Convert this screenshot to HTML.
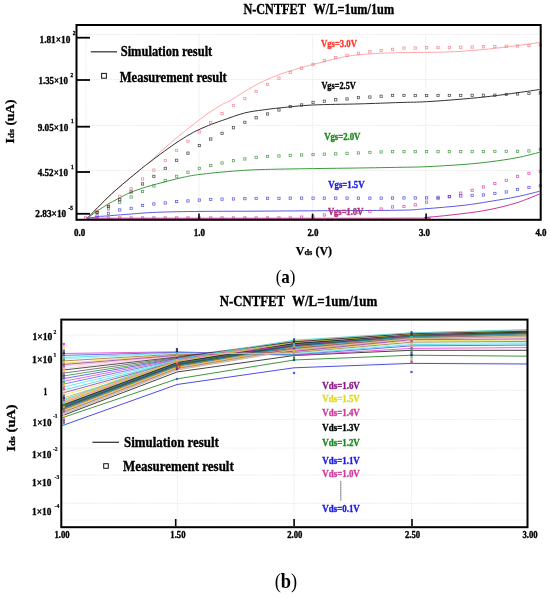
<!DOCTYPE html>
<html><head><meta charset="utf-8"><title>N-CNTFET</title>
<style>
html,body{margin:0;padding:0;background:#fff;}
body{width:550px;height:598px;overflow:hidden;}
svg{display:block;font-family:'Liberation Serif', 'DejaVu Serif', serif;}
</style></head>
<body>
<svg width="550" height="598" viewBox="0 0 550 598">
<rect width="550" height="598" fill="#fff"/>
<line x1="86" y1="34.5" x2="539" y2="34.5" stroke="#e4e4e4" stroke-width="0.8" stroke-dasharray="1.5,1"/>
<line x1="86" y1="79.5" x2="539" y2="79.5" stroke="#e4e4e4" stroke-width="0.8" stroke-dasharray="1.5,1"/>
<line x1="86" y1="125.5" x2="539" y2="125.5" stroke="#e4e4e4" stroke-width="0.8" stroke-dasharray="1.5,1"/>
<line x1="86" y1="170.5" x2="539" y2="170.5" stroke="#e4e4e4" stroke-width="0.8" stroke-dasharray="1.5,1"/>
<line x1="86" y1="34" x2="86" y2="218" stroke="#e4e4e4" stroke-width="0.8" stroke-dasharray="1.5,1"/>
<line x1="199.1" y1="34" x2="199.1" y2="218" stroke="#e4e4e4" stroke-width="0.8" stroke-dasharray="1.5,1"/>
<line x1="312.7" y1="34" x2="312.7" y2="218" stroke="#e4e4e4" stroke-width="0.8" stroke-dasharray="1.5,1"/>
<line x1="425.8" y1="34" x2="425.8" y2="218" stroke="#e4e4e4" stroke-width="0.8" stroke-dasharray="1.5,1"/>
<path d="M87.00,218.20 C139.17,218.20 343.50,218.33 400.00,218.20 C456.50,218.07 415.50,218.17 426.00,217.40 C436.50,216.63 452.33,214.92 463.00,213.60 C473.67,212.28 481.00,211.32 490.00,209.50 C499.00,207.68 508.75,205.28 517.00,202.70 C525.25,200.12 535.75,195.45 539.50,194.00" fill="none" stroke="#d0309a" stroke-width="1.0" stroke-opacity="1.0"/>
<path d="M87.00,218.50 C88.87,218.18 94.82,217.03 98.20,216.60 C101.58,216.17 102.00,216.32 107.30,215.90 C112.60,215.48 121.82,214.70 130.00,214.10 C138.18,213.50 144.73,212.75 156.40,212.30 C168.07,211.85 184.40,211.58 200.00,211.40 C215.60,211.22 231.33,211.30 250.00,211.20 C268.67,211.10 287.00,210.97 312.00,210.80 C337.00,210.63 381.00,210.55 400.00,210.20 C419.00,209.85 415.50,209.50 426.00,208.70 C436.50,207.90 452.33,206.62 463.00,205.40 C473.67,204.18 481.00,202.85 490.00,201.40 C499.00,199.95 508.75,198.38 517.00,196.70 C525.25,195.02 535.75,192.20 539.50,191.30" fill="none" stroke="#5a5ae8" stroke-width="1.0" stroke-opacity="1.0"/>
<path d="M87.00,218.50 C88.67,217.28 93.62,213.53 97.00,211.20 C100.38,208.87 103.77,206.60 107.30,204.50 C110.83,202.40 114.42,200.57 118.20,198.60 C121.98,196.63 125.45,194.60 130.00,192.70 C134.55,190.80 139.28,189.12 145.50,187.20 C151.72,185.28 160.77,182.90 167.30,181.20 C173.83,179.50 179.25,178.13 184.70,177.00 C190.15,175.87 192.45,175.33 200.00,174.40 C207.55,173.47 220.00,172.20 230.00,171.40 C240.00,170.60 246.22,170.07 260.00,169.60 C273.78,169.13 296.20,168.87 312.70,168.60 C329.20,168.33 344.45,168.22 359.00,168.00 C373.55,167.78 388.83,167.52 400.00,167.30 C411.17,167.08 415.50,167.17 426.00,166.70 C436.50,166.23 452.33,165.32 463.00,164.50 C473.67,163.68 481.00,162.93 490.00,161.80 C499.00,160.67 508.75,159.28 517.00,157.70 C525.25,156.12 535.75,153.20 539.50,152.30" fill="none" stroke="#3c9a3c" stroke-width="1.0" stroke-opacity="1.0"/>
<path d="M87.00,218.50 C91.10,214.40 102.85,201.95 111.60,193.90 C120.35,185.85 133.10,175.58 139.50,170.20 C145.90,164.82 145.83,165.27 150.00,161.60 C154.17,157.93 159.65,152.50 164.50,148.20 C169.35,143.90 174.25,139.80 179.10,135.80 C183.95,131.80 188.75,127.95 193.60,124.20 C198.45,120.45 203.35,116.63 208.20,113.30 C213.05,109.97 219.07,106.28 222.70,104.20 C226.33,102.12 226.37,102.92 230.00,100.80 C233.63,98.68 239.05,94.72 244.50,91.50 C249.95,88.28 256.63,84.42 262.70,81.50 C268.77,78.58 274.68,76.25 280.90,74.00 C287.12,71.75 294.70,69.57 300.00,68.00 C305.30,66.43 305.12,66.50 312.70,64.60 C320.28,62.70 335.62,58.40 345.50,56.60 C355.38,54.80 362.92,54.45 372.00,53.80 C381.08,53.15 387.08,53.02 400.00,52.70 C412.92,52.38 435.78,52.42 449.50,51.90 C463.22,51.38 472.30,50.48 482.30,49.60 C492.30,48.72 499.97,47.78 509.50,46.60 C519.03,45.42 534.50,43.18 539.50,42.50" fill="none" stroke="#ffa8a8" stroke-width="1.0" stroke-opacity="1.0"/>
<path d="M87.00,218.50 C91.10,214.40 102.85,201.95 111.60,193.90 C120.35,185.85 133.10,175.52 139.50,170.20 C145.90,164.88 145.83,165.18 150.00,162.00 C154.17,158.82 159.65,154.62 164.50,151.10 C169.35,147.58 174.25,144.05 179.10,140.90 C183.95,137.75 188.75,134.75 193.60,132.20 C198.45,129.65 203.35,127.58 208.20,125.60 C213.05,123.62 216.65,122.40 222.70,120.30 C228.75,118.20 237.83,114.72 244.50,113.00 C251.17,111.28 256.63,110.87 262.70,110.00 C268.77,109.13 272.57,108.63 280.90,107.80 C289.23,106.97 299.68,105.65 312.70,105.00 C325.72,104.35 344.45,104.32 359.00,103.90 C373.55,103.48 388.77,102.87 400.00,102.50 C411.23,102.13 415.90,102.28 426.40,101.70 C436.90,101.12 452.33,99.90 463.00,99.00 C473.67,98.10 481.28,97.35 490.40,96.30 C499.52,95.25 509.52,93.83 517.70,92.70 C525.88,91.57 535.87,90.03 539.50,89.50" fill="none" stroke="#333333" stroke-width="1.0" stroke-opacity="1.0"/>
<rect x="84.5" y="216.8" width="2.3" height="2.3" fill="none" stroke="#d0309a" stroke-width="0.75" stroke-opacity="0.8"/>
<rect x="95.9" y="216.8" width="2.3" height="2.3" fill="none" stroke="#d0309a" stroke-width="0.75" stroke-opacity="0.8"/>
<rect x="107.3" y="216.8" width="2.3" height="2.3" fill="none" stroke="#d0309a" stroke-width="0.75" stroke-opacity="0.8"/>
<rect x="118.6" y="216.8" width="2.3" height="2.3" fill="none" stroke="#d0309a" stroke-width="0.75" stroke-opacity="0.8"/>
<rect x="130.0" y="216.8" width="2.3" height="2.3" fill="none" stroke="#d0309a" stroke-width="0.75" stroke-opacity="0.8"/>
<rect x="141.4" y="216.8" width="2.3" height="2.3" fill="none" stroke="#d0309a" stroke-width="0.75" stroke-opacity="0.8"/>
<rect x="152.7" y="216.8" width="2.3" height="2.3" fill="none" stroke="#d0309a" stroke-width="0.75" stroke-opacity="0.8"/>
<rect x="164.1" y="216.8" width="2.3" height="2.3" fill="none" stroke="#d0309a" stroke-width="0.75" stroke-opacity="0.8"/>
<rect x="175.5" y="216.8" width="2.3" height="2.3" fill="none" stroke="#d0309a" stroke-width="0.75" stroke-opacity="0.8"/>
<rect x="186.8" y="216.8" width="2.3" height="2.3" fill="none" stroke="#d0309a" stroke-width="0.75" stroke-opacity="0.8"/>
<rect x="198.2" y="216.8" width="2.3" height="2.3" fill="none" stroke="#d0309a" stroke-width="0.75" stroke-opacity="0.8"/>
<rect x="209.6" y="216.8" width="2.3" height="2.3" fill="none" stroke="#d0309a" stroke-width="0.75" stroke-opacity="0.8"/>
<rect x="220.9" y="216.8" width="2.3" height="2.3" fill="none" stroke="#d0309a" stroke-width="0.75" stroke-opacity="0.8"/>
<rect x="232.3" y="216.8" width="2.3" height="2.3" fill="none" stroke="#d0309a" stroke-width="0.75" stroke-opacity="0.8"/>
<rect x="243.7" y="216.8" width="2.3" height="2.3" fill="none" stroke="#d0309a" stroke-width="0.75" stroke-opacity="0.8"/>
<rect x="255.0" y="216.8" width="2.3" height="2.3" fill="none" stroke="#d0309a" stroke-width="0.75" stroke-opacity="0.8"/>
<rect x="266.4" y="216.8" width="2.3" height="2.3" fill="none" stroke="#d0309a" stroke-width="0.75" stroke-opacity="0.8"/>
<rect x="277.8" y="216.8" width="2.3" height="2.3" fill="none" stroke="#d0309a" stroke-width="0.75" stroke-opacity="0.8"/>
<rect x="289.1" y="216.8" width="2.3" height="2.3" fill="none" stroke="#d0309a" stroke-width="0.75" stroke-opacity="0.8"/>
<rect x="300.5" y="216.0" width="2.3" height="2.3" fill="none" stroke="#d0309a" stroke-width="0.75" stroke-opacity="0.8"/>
<rect x="311.9" y="215.8" width="2.3" height="2.3" fill="none" stroke="#d0309a" stroke-width="0.75" stroke-opacity="0.8"/>
<rect x="323.2" y="213.8" width="2.3" height="2.3" fill="none" stroke="#d0309a" stroke-width="0.75" stroke-opacity="0.8"/>
<rect x="334.6" y="212.8" width="2.3" height="2.3" fill="none" stroke="#d0309a" stroke-width="0.75" stroke-opacity="0.8"/>
<rect x="345.9" y="211.8" width="2.3" height="2.3" fill="none" stroke="#d0309a" stroke-width="0.75" stroke-opacity="0.8"/>
<rect x="357.3" y="211.2" width="2.3" height="2.3" fill="none" stroke="#d0309a" stroke-width="0.75" stroke-opacity="0.8"/>
<rect x="368.7" y="210.2" width="2.3" height="2.3" fill="none" stroke="#d0309a" stroke-width="0.75" stroke-opacity="0.8"/>
<rect x="380.0" y="207.9" width="2.3" height="2.3" fill="none" stroke="#d0309a" stroke-width="0.75" stroke-opacity="0.8"/>
<rect x="391.4" y="205.8" width="2.3" height="2.3" fill="none" stroke="#d0309a" stroke-width="0.75" stroke-opacity="0.8"/>
<rect x="402.8" y="205.3" width="2.3" height="2.3" fill="none" stroke="#d0309a" stroke-width="0.75" stroke-opacity="0.8"/>
<rect x="414.1" y="203.7" width="2.3" height="2.3" fill="none" stroke="#d0309a" stroke-width="0.75" stroke-opacity="0.8"/>
<rect x="425.5" y="201.0" width="2.3" height="2.3" fill="none" stroke="#d0309a" stroke-width="0.75" stroke-opacity="0.8"/>
<rect x="436.9" y="197.4" width="2.3" height="2.3" fill="none" stroke="#d0309a" stroke-width="0.75" stroke-opacity="0.8"/>
<rect x="448.2" y="195.5" width="2.3" height="2.3" fill="none" stroke="#d0309a" stroke-width="0.75" stroke-opacity="0.8"/>
<rect x="459.6" y="192.0" width="2.3" height="2.3" fill="none" stroke="#d0309a" stroke-width="0.75" stroke-opacity="0.8"/>
<rect x="471.0" y="189.2" width="2.3" height="2.3" fill="none" stroke="#d0309a" stroke-width="0.75" stroke-opacity="0.8"/>
<rect x="482.3" y="185.8" width="2.3" height="2.3" fill="none" stroke="#d0309a" stroke-width="0.75" stroke-opacity="0.8"/>
<rect x="493.7" y="182.4" width="2.3" height="2.3" fill="none" stroke="#d0309a" stroke-width="0.75" stroke-opacity="0.8"/>
<rect x="505.1" y="179.2" width="2.3" height="2.3" fill="none" stroke="#d0309a" stroke-width="0.75" stroke-opacity="0.8"/>
<rect x="516.4" y="175.2" width="2.3" height="2.3" fill="none" stroke="#d0309a" stroke-width="0.75" stroke-opacity="0.8"/>
<rect x="527.8" y="172.2" width="2.3" height="2.3" fill="none" stroke="#d0309a" stroke-width="0.75" stroke-opacity="0.8"/>
<rect x="539.2" y="170.2" width="2.3" height="2.3" fill="none" stroke="#d0309a" stroke-width="0.75" stroke-opacity="0.8"/>
<rect x="95.9" y="214.8" width="2.3" height="2.3" fill="none" stroke="#3434e0" stroke-width="0.75" stroke-opacity="0.8"/>
<rect x="107.3" y="212.2" width="2.3" height="2.3" fill="none" stroke="#3434e0" stroke-width="0.75" stroke-opacity="0.8"/>
<rect x="118.6" y="208.8" width="2.3" height="2.3" fill="none" stroke="#3434e0" stroke-width="0.75" stroke-opacity="0.8"/>
<rect x="130.0" y="207.2" width="2.3" height="2.3" fill="none" stroke="#3434e0" stroke-width="0.75" stroke-opacity="0.8"/>
<rect x="141.4" y="204.3" width="2.3" height="2.3" fill="none" stroke="#3434e0" stroke-width="0.75" stroke-opacity="0.8"/>
<rect x="152.7" y="202.8" width="2.3" height="2.3" fill="none" stroke="#3434e0" stroke-width="0.75" stroke-opacity="0.8"/>
<rect x="164.1" y="201.8" width="2.3" height="2.3" fill="none" stroke="#3434e0" stroke-width="0.75" stroke-opacity="0.8"/>
<rect x="175.5" y="200.4" width="2.3" height="2.3" fill="none" stroke="#3434e0" stroke-width="0.75" stroke-opacity="0.8"/>
<rect x="186.8" y="199.8" width="2.3" height="2.3" fill="none" stroke="#3434e0" stroke-width="0.75" stroke-opacity="0.8"/>
<rect x="198.2" y="198.9" width="2.3" height="2.3" fill="none" stroke="#3434e0" stroke-width="0.75" stroke-opacity="0.8"/>
<rect x="209.6" y="198.3" width="2.3" height="2.3" fill="none" stroke="#3434e0" stroke-width="0.75" stroke-opacity="0.8"/>
<rect x="220.9" y="198.0" width="2.3" height="2.3" fill="none" stroke="#3434e0" stroke-width="0.75" stroke-opacity="0.8"/>
<rect x="232.3" y="197.8" width="2.3" height="2.3" fill="none" stroke="#3434e0" stroke-width="0.75" stroke-opacity="0.8"/>
<rect x="243.7" y="197.5" width="2.3" height="2.3" fill="none" stroke="#3434e0" stroke-width="0.75" stroke-opacity="0.8"/>
<rect x="255.0" y="197.3" width="2.3" height="2.3" fill="none" stroke="#3434e0" stroke-width="0.75" stroke-opacity="0.8"/>
<rect x="266.4" y="197.2" width="2.3" height="2.3" fill="none" stroke="#3434e0" stroke-width="0.75" stroke-opacity="0.8"/>
<rect x="277.8" y="197.2" width="2.3" height="2.3" fill="none" stroke="#3434e0" stroke-width="0.75" stroke-opacity="0.8"/>
<rect x="289.1" y="197.0" width="2.3" height="2.3" fill="none" stroke="#3434e0" stroke-width="0.75" stroke-opacity="0.8"/>
<rect x="300.5" y="197.0" width="2.3" height="2.3" fill="none" stroke="#3434e0" stroke-width="0.75" stroke-opacity="0.8"/>
<rect x="311.9" y="197.0" width="2.3" height="2.3" fill="none" stroke="#3434e0" stroke-width="0.75" stroke-opacity="0.8"/>
<rect x="323.2" y="197.0" width="2.3" height="2.3" fill="none" stroke="#3434e0" stroke-width="0.75" stroke-opacity="0.8"/>
<rect x="334.6" y="197.0" width="2.3" height="2.3" fill="none" stroke="#3434e0" stroke-width="0.75" stroke-opacity="0.8"/>
<rect x="345.9" y="197.0" width="2.3" height="2.3" fill="none" stroke="#3434e0" stroke-width="0.75" stroke-opacity="0.8"/>
<rect x="357.3" y="197.0" width="2.3" height="2.3" fill="none" stroke="#3434e0" stroke-width="0.75" stroke-opacity="0.8"/>
<rect x="368.7" y="197.0" width="2.3" height="2.3" fill="none" stroke="#3434e0" stroke-width="0.75" stroke-opacity="0.8"/>
<rect x="380.0" y="197.0" width="2.3" height="2.3" fill="none" stroke="#3434e0" stroke-width="0.75" stroke-opacity="0.8"/>
<rect x="391.4" y="196.9" width="2.3" height="2.3" fill="none" stroke="#3434e0" stroke-width="0.75" stroke-opacity="0.8"/>
<rect x="402.8" y="196.8" width="2.3" height="2.3" fill="none" stroke="#3434e0" stroke-width="0.75" stroke-opacity="0.8"/>
<rect x="414.1" y="196.8" width="2.3" height="2.3" fill="none" stroke="#3434e0" stroke-width="0.75" stroke-opacity="0.8"/>
<rect x="425.5" y="196.7" width="2.3" height="2.3" fill="none" stroke="#3434e0" stroke-width="0.75" stroke-opacity="0.8"/>
<rect x="436.9" y="196.2" width="2.3" height="2.3" fill="none" stroke="#3434e0" stroke-width="0.75" stroke-opacity="0.8"/>
<rect x="448.2" y="195.5" width="2.3" height="2.3" fill="none" stroke="#3434e0" stroke-width="0.75" stroke-opacity="0.8"/>
<rect x="459.6" y="194.8" width="2.3" height="2.3" fill="none" stroke="#3434e0" stroke-width="0.75" stroke-opacity="0.8"/>
<rect x="471.0" y="194.3" width="2.3" height="2.3" fill="none" stroke="#3434e0" stroke-width="0.75" stroke-opacity="0.8"/>
<rect x="482.3" y="193.8" width="2.3" height="2.3" fill="none" stroke="#3434e0" stroke-width="0.75" stroke-opacity="0.8"/>
<rect x="493.7" y="192.3" width="2.3" height="2.3" fill="none" stroke="#3434e0" stroke-width="0.75" stroke-opacity="0.8"/>
<rect x="505.1" y="190.8" width="2.3" height="2.3" fill="none" stroke="#3434e0" stroke-width="0.75" stroke-opacity="0.8"/>
<rect x="516.4" y="188.3" width="2.3" height="2.3" fill="none" stroke="#3434e0" stroke-width="0.75" stroke-opacity="0.8"/>
<rect x="527.8" y="186.3" width="2.3" height="2.3" fill="none" stroke="#3434e0" stroke-width="0.75" stroke-opacity="0.8"/>
<rect x="539.2" y="184.7" width="2.3" height="2.3" fill="none" stroke="#3434e0" stroke-width="0.75" stroke-opacity="0.8"/>
<rect x="95.9" y="211.5" width="2.3" height="2.3" fill="none" stroke="#2e8b2e" stroke-width="0.75" stroke-opacity="0.8"/>
<rect x="107.3" y="207.7" width="2.3" height="2.3" fill="none" stroke="#2e8b2e" stroke-width="0.75" stroke-opacity="0.8"/>
<rect x="118.6" y="201.3" width="2.3" height="2.3" fill="none" stroke="#2e8b2e" stroke-width="0.75" stroke-opacity="0.8"/>
<rect x="130.0" y="195.8" width="2.3" height="2.3" fill="none" stroke="#2e8b2e" stroke-width="0.75" stroke-opacity="0.8"/>
<rect x="141.4" y="190.4" width="2.3" height="2.3" fill="none" stroke="#2e8b2e" stroke-width="0.75" stroke-opacity="0.8"/>
<rect x="152.7" y="184.8" width="2.3" height="2.3" fill="none" stroke="#2e8b2e" stroke-width="0.75" stroke-opacity="0.8"/>
<rect x="164.1" y="179.5" width="2.3" height="2.3" fill="none" stroke="#2e8b2e" stroke-width="0.75" stroke-opacity="0.8"/>
<rect x="175.5" y="175.2" width="2.3" height="2.3" fill="none" stroke="#2e8b2e" stroke-width="0.75" stroke-opacity="0.8"/>
<rect x="186.8" y="171.2" width="2.3" height="2.3" fill="none" stroke="#2e8b2e" stroke-width="0.75" stroke-opacity="0.8"/>
<rect x="198.2" y="167.2" width="2.3" height="2.3" fill="none" stroke="#2e8b2e" stroke-width="0.75" stroke-opacity="0.8"/>
<rect x="209.6" y="164.4" width="2.3" height="2.3" fill="none" stroke="#2e8b2e" stroke-width="0.75" stroke-opacity="0.8"/>
<rect x="220.9" y="161.8" width="2.3" height="2.3" fill="none" stroke="#2e8b2e" stroke-width="0.75" stroke-opacity="0.8"/>
<rect x="232.3" y="159.5" width="2.3" height="2.3" fill="none" stroke="#2e8b2e" stroke-width="0.75" stroke-opacity="0.8"/>
<rect x="243.7" y="157.8" width="2.3" height="2.3" fill="none" stroke="#2e8b2e" stroke-width="0.75" stroke-opacity="0.8"/>
<rect x="255.0" y="156.2" width="2.3" height="2.3" fill="none" stroke="#2e8b2e" stroke-width="0.75" stroke-opacity="0.8"/>
<rect x="266.4" y="155.3" width="2.3" height="2.3" fill="none" stroke="#2e8b2e" stroke-width="0.75" stroke-opacity="0.8"/>
<rect x="277.8" y="154.8" width="2.3" height="2.3" fill="none" stroke="#2e8b2e" stroke-width="0.75" stroke-opacity="0.8"/>
<rect x="289.1" y="154.3" width="2.3" height="2.3" fill="none" stroke="#2e8b2e" stroke-width="0.75" stroke-opacity="0.8"/>
<rect x="300.5" y="153.8" width="2.3" height="2.3" fill="none" stroke="#2e8b2e" stroke-width="0.75" stroke-opacity="0.8"/>
<rect x="311.9" y="153.4" width="2.3" height="2.3" fill="none" stroke="#2e8b2e" stroke-width="0.75" stroke-opacity="0.8"/>
<rect x="323.2" y="153.0" width="2.3" height="2.3" fill="none" stroke="#2e8b2e" stroke-width="0.75" stroke-opacity="0.8"/>
<rect x="334.6" y="152.7" width="2.3" height="2.3" fill="none" stroke="#2e8b2e" stroke-width="0.75" stroke-opacity="0.8"/>
<rect x="345.9" y="152.2" width="2.3" height="2.3" fill="none" stroke="#2e8b2e" stroke-width="0.75" stroke-opacity="0.8"/>
<rect x="357.3" y="151.8" width="2.3" height="2.3" fill="none" stroke="#2e8b2e" stroke-width="0.75" stroke-opacity="0.8"/>
<rect x="368.7" y="151.3" width="2.3" height="2.3" fill="none" stroke="#2e8b2e" stroke-width="0.75" stroke-opacity="0.8"/>
<rect x="380.0" y="150.8" width="2.3" height="2.3" fill="none" stroke="#2e8b2e" stroke-width="0.75" stroke-opacity="0.8"/>
<rect x="391.4" y="150.5" width="2.3" height="2.3" fill="none" stroke="#2e8b2e" stroke-width="0.75" stroke-opacity="0.8"/>
<rect x="402.8" y="150.5" width="2.3" height="2.3" fill="none" stroke="#2e8b2e" stroke-width="0.75" stroke-opacity="0.8"/>
<rect x="414.1" y="150.5" width="2.3" height="2.3" fill="none" stroke="#2e8b2e" stroke-width="0.75" stroke-opacity="0.8"/>
<rect x="425.5" y="150.5" width="2.3" height="2.3" fill="none" stroke="#2e8b2e" stroke-width="0.75" stroke-opacity="0.8"/>
<rect x="436.9" y="150.5" width="2.3" height="2.3" fill="none" stroke="#2e8b2e" stroke-width="0.75" stroke-opacity="0.8"/>
<rect x="448.2" y="150.5" width="2.3" height="2.3" fill="none" stroke="#2e8b2e" stroke-width="0.75" stroke-opacity="0.8"/>
<rect x="459.6" y="150.5" width="2.3" height="2.3" fill="none" stroke="#2e8b2e" stroke-width="0.75" stroke-opacity="0.8"/>
<rect x="471.0" y="150.5" width="2.3" height="2.3" fill="none" stroke="#2e8b2e" stroke-width="0.75" stroke-opacity="0.8"/>
<rect x="482.3" y="150.4" width="2.3" height="2.3" fill="none" stroke="#2e8b2e" stroke-width="0.75" stroke-opacity="0.8"/>
<rect x="493.7" y="150.3" width="2.3" height="2.3" fill="none" stroke="#2e8b2e" stroke-width="0.75" stroke-opacity="0.8"/>
<rect x="505.1" y="150.2" width="2.3" height="2.3" fill="none" stroke="#2e8b2e" stroke-width="0.75" stroke-opacity="0.8"/>
<rect x="516.4" y="150.2" width="2.3" height="2.3" fill="none" stroke="#2e8b2e" stroke-width="0.75" stroke-opacity="0.8"/>
<rect x="527.8" y="149.8" width="2.3" height="2.3" fill="none" stroke="#2e8b2e" stroke-width="0.75" stroke-opacity="0.8"/>
<rect x="539.2" y="148.3" width="2.3" height="2.3" fill="none" stroke="#2e8b2e" stroke-width="0.75" stroke-opacity="0.8"/>
<rect x="95.9" y="210.2" width="2.3" height="2.3" fill="none" stroke="#f07080" stroke-width="0.75" stroke-opacity="0.8"/>
<rect x="107.3" y="204.0" width="2.3" height="2.3" fill="none" stroke="#f07080" stroke-width="0.75" stroke-opacity="0.8"/>
<rect x="118.6" y="195.2" width="2.3" height="2.3" fill="none" stroke="#f07080" stroke-width="0.75" stroke-opacity="0.8"/>
<rect x="130.0" y="187.5" width="2.3" height="2.3" fill="none" stroke="#f07080" stroke-width="0.75" stroke-opacity="0.8"/>
<rect x="141.4" y="177.8" width="2.3" height="2.3" fill="none" stroke="#f07080" stroke-width="0.75" stroke-opacity="0.8"/>
<rect x="152.7" y="169.0" width="2.3" height="2.3" fill="none" stroke="#f07080" stroke-width="0.75" stroke-opacity="0.8"/>
<rect x="164.1" y="159.2" width="2.3" height="2.3" fill="none" stroke="#f07080" stroke-width="0.75" stroke-opacity="0.8"/>
<rect x="175.5" y="149.3" width="2.3" height="2.3" fill="none" stroke="#f07080" stroke-width="0.75" stroke-opacity="0.8"/>
<rect x="186.8" y="140.2" width="2.3" height="2.3" fill="none" stroke="#f07080" stroke-width="0.75" stroke-opacity="0.8"/>
<rect x="198.2" y="130.8" width="2.3" height="2.3" fill="none" stroke="#f07080" stroke-width="0.75" stroke-opacity="0.8"/>
<rect x="209.6" y="121.5" width="2.3" height="2.3" fill="none" stroke="#f07080" stroke-width="0.75" stroke-opacity="0.8"/>
<rect x="220.9" y="112.4" width="2.3" height="2.3" fill="none" stroke="#f07080" stroke-width="0.75" stroke-opacity="0.8"/>
<rect x="232.3" y="104.3" width="2.3" height="2.3" fill="none" stroke="#f07080" stroke-width="0.75" stroke-opacity="0.8"/>
<rect x="243.7" y="97.5" width="2.3" height="2.3" fill="none" stroke="#f07080" stroke-width="0.75" stroke-opacity="0.8"/>
<rect x="255.0" y="90.3" width="2.3" height="2.3" fill="none" stroke="#f07080" stroke-width="0.75" stroke-opacity="0.8"/>
<rect x="266.4" y="83.3" width="2.3" height="2.3" fill="none" stroke="#f07080" stroke-width="0.75" stroke-opacity="0.8"/>
<rect x="277.8" y="77.0" width="2.3" height="2.3" fill="none" stroke="#f07080" stroke-width="0.75" stroke-opacity="0.8"/>
<rect x="289.1" y="71.2" width="2.3" height="2.3" fill="none" stroke="#f07080" stroke-width="0.75" stroke-opacity="0.8"/>
<rect x="300.5" y="67.0" width="2.3" height="2.3" fill="none" stroke="#f07080" stroke-width="0.75" stroke-opacity="0.8"/>
<rect x="311.9" y="63.3" width="2.3" height="2.3" fill="none" stroke="#f07080" stroke-width="0.75" stroke-opacity="0.8"/>
<rect x="323.2" y="59.6" width="2.3" height="2.3" fill="none" stroke="#f07080" stroke-width="0.75" stroke-opacity="0.8"/>
<rect x="334.6" y="56.4" width="2.3" height="2.3" fill="none" stroke="#f07080" stroke-width="0.75" stroke-opacity="0.8"/>
<rect x="345.9" y="54.2" width="2.3" height="2.3" fill="none" stroke="#f07080" stroke-width="0.75" stroke-opacity="0.8"/>
<rect x="357.3" y="52.1" width="2.3" height="2.3" fill="none" stroke="#f07080" stroke-width="0.75" stroke-opacity="0.8"/>
<rect x="368.7" y="50.6" width="2.3" height="2.3" fill="none" stroke="#f07080" stroke-width="0.75" stroke-opacity="0.8"/>
<rect x="380.0" y="49.4" width="2.3" height="2.3" fill="none" stroke="#f07080" stroke-width="0.75" stroke-opacity="0.8"/>
<rect x="391.4" y="48.2" width="2.3" height="2.3" fill="none" stroke="#f07080" stroke-width="0.75" stroke-opacity="0.8"/>
<rect x="402.8" y="46.9" width="2.3" height="2.3" fill="none" stroke="#f07080" stroke-width="0.75" stroke-opacity="0.8"/>
<rect x="414.1" y="46.9" width="2.3" height="2.3" fill="none" stroke="#f07080" stroke-width="0.75" stroke-opacity="0.8"/>
<rect x="425.5" y="46.6" width="2.3" height="2.3" fill="none" stroke="#f07080" stroke-width="0.75" stroke-opacity="0.8"/>
<rect x="436.9" y="46.4" width="2.3" height="2.3" fill="none" stroke="#f07080" stroke-width="0.75" stroke-opacity="0.8"/>
<rect x="448.2" y="46.4" width="2.3" height="2.3" fill="none" stroke="#f07080" stroke-width="0.75" stroke-opacity="0.8"/>
<rect x="459.6" y="46.1" width="2.3" height="2.3" fill="none" stroke="#f07080" stroke-width="0.75" stroke-opacity="0.8"/>
<rect x="471.0" y="45.9" width="2.3" height="2.3" fill="none" stroke="#f07080" stroke-width="0.75" stroke-opacity="0.8"/>
<rect x="482.3" y="45.6" width="2.3" height="2.3" fill="none" stroke="#f07080" stroke-width="0.75" stroke-opacity="0.8"/>
<rect x="493.7" y="45.4" width="2.3" height="2.3" fill="none" stroke="#f07080" stroke-width="0.75" stroke-opacity="0.8"/>
<rect x="505.1" y="45.1" width="2.3" height="2.3" fill="none" stroke="#f07080" stroke-width="0.75" stroke-opacity="0.8"/>
<rect x="516.4" y="44.9" width="2.3" height="2.3" fill="none" stroke="#f07080" stroke-width="0.75" stroke-opacity="0.8"/>
<rect x="527.8" y="44.4" width="2.3" height="2.3" fill="none" stroke="#f07080" stroke-width="0.75" stroke-opacity="0.8"/>
<rect x="539.2" y="43.9" width="2.3" height="2.3" fill="none" stroke="#f07080" stroke-width="0.75" stroke-opacity="0.8"/>
<rect x="95.9" y="211.2" width="2.3" height="2.3" fill="none" stroke="#222" stroke-width="0.75" stroke-opacity="0.8"/>
<rect x="107.3" y="205.4" width="2.3" height="2.3" fill="none" stroke="#222" stroke-width="0.75" stroke-opacity="0.8"/>
<rect x="118.6" y="198.4" width="2.3" height="2.3" fill="none" stroke="#222" stroke-width="0.75" stroke-opacity="0.8"/>
<rect x="130.0" y="190.8" width="2.3" height="2.3" fill="none" stroke="#222" stroke-width="0.75" stroke-opacity="0.8"/>
<rect x="141.4" y="182.8" width="2.3" height="2.3" fill="none" stroke="#222" stroke-width="0.75" stroke-opacity="0.8"/>
<rect x="152.7" y="175.2" width="2.3" height="2.3" fill="none" stroke="#222" stroke-width="0.75" stroke-opacity="0.8"/>
<rect x="164.1" y="167.2" width="2.3" height="2.3" fill="none" stroke="#222" stroke-width="0.75" stroke-opacity="0.8"/>
<rect x="175.5" y="159.2" width="2.3" height="2.3" fill="none" stroke="#222" stroke-width="0.75" stroke-opacity="0.8"/>
<rect x="186.8" y="152.0" width="2.3" height="2.3" fill="none" stroke="#222" stroke-width="0.75" stroke-opacity="0.8"/>
<rect x="198.2" y="144.4" width="2.3" height="2.3" fill="none" stroke="#222" stroke-width="0.75" stroke-opacity="0.8"/>
<rect x="209.6" y="137.9" width="2.3" height="2.3" fill="none" stroke="#222" stroke-width="0.75" stroke-opacity="0.8"/>
<rect x="220.9" y="132.2" width="2.3" height="2.3" fill="none" stroke="#222" stroke-width="0.75" stroke-opacity="0.8"/>
<rect x="232.3" y="126.6" width="2.3" height="2.3" fill="none" stroke="#222" stroke-width="0.75" stroke-opacity="0.8"/>
<rect x="243.7" y="121.2" width="2.3" height="2.3" fill="none" stroke="#222" stroke-width="0.75" stroke-opacity="0.8"/>
<rect x="255.0" y="116.6" width="2.3" height="2.3" fill="none" stroke="#222" stroke-width="0.75" stroke-opacity="0.8"/>
<rect x="266.4" y="112.8" width="2.3" height="2.3" fill="none" stroke="#222" stroke-width="0.75" stroke-opacity="0.8"/>
<rect x="277.8" y="108.8" width="2.3" height="2.3" fill="none" stroke="#222" stroke-width="0.75" stroke-opacity="0.8"/>
<rect x="289.1" y="105.4" width="2.3" height="2.3" fill="none" stroke="#222" stroke-width="0.75" stroke-opacity="0.8"/>
<rect x="300.5" y="103.8" width="2.3" height="2.3" fill="none" stroke="#222" stroke-width="0.75" stroke-opacity="0.8"/>
<rect x="311.9" y="101.3" width="2.3" height="2.3" fill="none" stroke="#222" stroke-width="0.75" stroke-opacity="0.8"/>
<rect x="323.2" y="100.0" width="2.3" height="2.3" fill="none" stroke="#222" stroke-width="0.75" stroke-opacity="0.8"/>
<rect x="334.6" y="98.6" width="2.3" height="2.3" fill="none" stroke="#222" stroke-width="0.75" stroke-opacity="0.8"/>
<rect x="345.9" y="97.8" width="2.3" height="2.3" fill="none" stroke="#222" stroke-width="0.75" stroke-opacity="0.8"/>
<rect x="357.3" y="96.4" width="2.3" height="2.3" fill="none" stroke="#222" stroke-width="0.75" stroke-opacity="0.8"/>
<rect x="368.7" y="95.9" width="2.3" height="2.3" fill="none" stroke="#222" stroke-width="0.75" stroke-opacity="0.8"/>
<rect x="380.0" y="95.1" width="2.3" height="2.3" fill="none" stroke="#222" stroke-width="0.75" stroke-opacity="0.8"/>
<rect x="391.4" y="94.3" width="2.3" height="2.3" fill="none" stroke="#222" stroke-width="0.75" stroke-opacity="0.8"/>
<rect x="402.8" y="94.3" width="2.3" height="2.3" fill="none" stroke="#222" stroke-width="0.75" stroke-opacity="0.8"/>
<rect x="414.1" y="94.4" width="2.3" height="2.3" fill="none" stroke="#222" stroke-width="0.75" stroke-opacity="0.8"/>
<rect x="425.5" y="94.4" width="2.3" height="2.3" fill="none" stroke="#222" stroke-width="0.75" stroke-opacity="0.8"/>
<rect x="436.9" y="94.3" width="2.3" height="2.3" fill="none" stroke="#222" stroke-width="0.75" stroke-opacity="0.8"/>
<rect x="448.2" y="94.3" width="2.3" height="2.3" fill="none" stroke="#222" stroke-width="0.75" stroke-opacity="0.8"/>
<rect x="459.6" y="94.3" width="2.3" height="2.3" fill="none" stroke="#222" stroke-width="0.75" stroke-opacity="0.8"/>
<rect x="471.0" y="94.2" width="2.3" height="2.3" fill="none" stroke="#222" stroke-width="0.75" stroke-opacity="0.8"/>
<rect x="482.3" y="94.1" width="2.3" height="2.3" fill="none" stroke="#222" stroke-width="0.75" stroke-opacity="0.8"/>
<rect x="493.7" y="94.0" width="2.3" height="2.3" fill="none" stroke="#222" stroke-width="0.75" stroke-opacity="0.8"/>
<rect x="505.1" y="93.3" width="2.3" height="2.3" fill="none" stroke="#222" stroke-width="0.75" stroke-opacity="0.8"/>
<rect x="516.4" y="92.8" width="2.3" height="2.3" fill="none" stroke="#222" stroke-width="0.75" stroke-opacity="0.8"/>
<rect x="527.8" y="92.3" width="2.3" height="2.3" fill="none" stroke="#222" stroke-width="0.75" stroke-opacity="0.8"/>
<rect x="539.2" y="91.8" width="2.3" height="2.3" fill="none" stroke="#222" stroke-width="0.75" stroke-opacity="0.8"/>
<rect x="76.5" y="25" width="464.2" height="194.8" fill="none" stroke="#000" stroke-width="2"/>
<line x1="77" y1="37.7" x2="90" y2="37.7" stroke="#000" stroke-width="1.8"/>
<line x1="77" y1="80" x2="90" y2="80" stroke="#000" stroke-width="1.8"/>
<line x1="77" y1="126.7" x2="90" y2="126.7" stroke="#000" stroke-width="1.8"/>
<line x1="77" y1="172" x2="90" y2="172" stroke="#000" stroke-width="1.8"/>
<line x1="77" y1="213.8" x2="90" y2="213.8" stroke="#000" stroke-width="1.8"/>
<line x1="199" y1="213.6" x2="199" y2="219" stroke="#000" stroke-width="1.6"/>
<line x1="312.6" y1="213.6" x2="312.6" y2="219" stroke="#000" stroke-width="1.6"/>
<line x1="426.1" y1="213.6" x2="426.1" y2="219" stroke="#000" stroke-width="1.6"/>
<text x="39.5" y="42.7" font-size="10.5" fill="#000" font-weight="bold" text-anchor="start" stroke="#000" stroke-width="0.35" textLength="30.800000000000004" lengthAdjust="spacingAndGlyphs" >1.81×10</text>
<text x="72.8" y="35.4" font-size="5.4" font-weight="bold" fill="#000" stroke="#000" stroke-width="0.3">2</text>
<text x="38.5" y="84.3" font-size="10.5" fill="#000" font-weight="bold" text-anchor="start" stroke="#000" stroke-width="0.35" textLength="29.500000000000007" lengthAdjust="spacingAndGlyphs" >1.35×10</text>
<text x="70.6" y="76.9" font-size="5.4" font-weight="bold" fill="#000" stroke="#000" stroke-width="0.3">2</text>
<text x="37.7" y="130.5" font-size="10.5" fill="#000" font-weight="bold" text-anchor="start" stroke="#000" stroke-width="0.35" textLength="30.6" lengthAdjust="spacingAndGlyphs" >9.05×10</text>
<text x="71" y="122.9" font-size="5.4" font-weight="bold" fill="#000" stroke="#000" stroke-width="0.3">1</text>
<text x="37.7" y="175.6" font-size="10.5" fill="#000" font-weight="bold" text-anchor="start" stroke="#000" stroke-width="0.35" textLength="30.300000000000004" lengthAdjust="spacingAndGlyphs" >4.52×10</text>
<text x="71" y="168.5" font-size="5.4" font-weight="bold" fill="#000" stroke="#000" stroke-width="0.3">1</text>
<text x="35.300000000000004" y="216.8" font-size="10.5" fill="#000" font-weight="bold" text-anchor="start" stroke="#000" stroke-width="0.35" textLength="30.900000000000006" lengthAdjust="spacingAndGlyphs" >2.83×10</text>
<text x="68.4" y="209.8" font-size="5.4" font-weight="bold" fill="#000" stroke="#000" stroke-width="0.3">-5</text>
<text x="79.7" y="236" font-size="9.5" fill="#000" font-weight="bold" text-anchor="middle" stroke="#000" stroke-width="0.35" textLength="11.2" lengthAdjust="spacingAndGlyphs" >0.0</text>
<text x="199.4" y="236" font-size="9.5" fill="#000" font-weight="bold" text-anchor="middle" stroke="#000" stroke-width="0.35" textLength="11.2" lengthAdjust="spacingAndGlyphs" >1.0</text>
<text x="313" y="236" font-size="9.5" fill="#000" font-weight="bold" text-anchor="middle" stroke="#000" stroke-width="0.35" textLength="11.2" lengthAdjust="spacingAndGlyphs" >2.0</text>
<text x="424.5" y="236" font-size="9.5" fill="#000" font-weight="bold" text-anchor="middle" stroke="#000" stroke-width="0.35" textLength="11.2" lengthAdjust="spacingAndGlyphs" >3.0</text>
<text x="541" y="236" font-size="9.5" fill="#000" font-weight="bold" text-anchor="middle" stroke="#000" stroke-width="0.35" textLength="11.2" lengthAdjust="spacingAndGlyphs" >4.0</text>
<text x="295.8" y="254.6" font-weight="bold" fill="#000" stroke="#000" stroke-width="0.25" textLength="36.2" lengthAdjust="spacingAndGlyphs"><tspan font-size="13">V</tspan><tspan font-size="9.2">ds</tspan><tspan font-size="13"> (V)</tspan></text>
<text transform="translate(14.3,143.4) rotate(-90)" font-weight="bold" fill="#000" stroke="#000" stroke-width="0.3" textLength="44" lengthAdjust="spacingAndGlyphs"><tspan font-size="12.5">I</tspan><tspan font-size="9">ds</tspan><tspan font-size="12.5"> (uA)</tspan></text>
<text x="243.4" y="13.7" font-size="14.2" fill="#000" font-weight="bold" text-anchor="start" stroke="#000" stroke-width="0.35" textLength="62.4" lengthAdjust="spacingAndGlyphs" >N-CNTFET</text>
<text x="313.6" y="13.7" font-size="14.2" fill="#000" font-weight="bold" text-anchor="start" stroke="#000" stroke-width="0.35" textLength="80.5" lengthAdjust="spacingAndGlyphs" >W/L=1um/1um</text>
<line x1="90.8" y1="51.8" x2="117" y2="51.8" stroke="#4a4a4a" stroke-width="1.4"/>
<text x="120.7" y="56.2" font-size="14.2" fill="#000" font-weight="bold" text-anchor="start" stroke="#000" stroke-width="0.35" textLength="91.6" lengthAdjust="spacingAndGlyphs" >Simulation result</text>
<rect x="101.6" y="73.4" width="4.8" height="4.8" fill="none" stroke="#111" stroke-width="1.0" stroke-opacity="1.0"/>
<text x="119.8" y="81.7" font-size="14.2" fill="#000" font-weight="bold" text-anchor="start" stroke="#000" stroke-width="0.35" textLength="107" lengthAdjust="spacingAndGlyphs" >Measurement result</text>
<text x="320.9" y="46.6" font-size="10" fill="#ff3a2a" font-weight="bold" text-anchor="start" stroke="#ff3a2a" stroke-width="0.35" textLength="36.1" lengthAdjust="spacingAndGlyphs" >Vgs=3.0V</text>
<text x="321.4" y="89.4" font-size="10" fill="#000" font-weight="bold" text-anchor="start" stroke="#000" stroke-width="0.35" textLength="34.4" lengthAdjust="spacingAndGlyphs" >Vgs=2.5V</text>
<text x="324.2" y="140" font-size="10" fill="#1e8a1e" font-weight="bold" text-anchor="start" stroke="#1e8a1e" stroke-width="0.35" textLength="36.2" lengthAdjust="spacingAndGlyphs" >Vgs=2.0V</text>
<text x="328.3" y="187.7" font-size="10" fill="#1a1ae8" font-weight="bold" text-anchor="start" stroke="#1a1ae8" stroke-width="0.35" textLength="36.2" lengthAdjust="spacingAndGlyphs" >Vgs=1.5V</text>
<text x="327.9" y="214.5" font-size="10" fill="#b0307a" font-weight="bold" text-anchor="start" stroke="#b0307a" stroke-width="0.35" textLength="35.4" lengthAdjust="spacingAndGlyphs" >Vgs=1.0V</text>
<text x="275.7" y="283" font-size="19" fill="#000" font-family="'Liberation Serif',serif" textLength="19.8" lengthAdjust="spacingAndGlyphs">(<tspan font-weight="bold">a</tspan>)</text>
<text x="219.7" y="305.9" font-size="14.8" fill="#000" font-weight="bold" text-anchor="start" stroke="#000" stroke-width="0.35" textLength="65.4" lengthAdjust="spacingAndGlyphs" >N-CNTFET</text>
<text x="292.0" y="305.9" font-size="14.8" fill="#000" font-weight="bold" text-anchor="start" stroke="#000" stroke-width="0.35" textLength="85.4" lengthAdjust="spacingAndGlyphs" >W/L=1um/1um</text>
<line x1="62" y1="335" x2="527" y2="335" stroke="#e4e4e4" stroke-width="0.8" stroke-dasharray="1.5,1"/>
<line x1="62" y1="363" x2="527" y2="363" stroke="#e4e4e4" stroke-width="0.8" stroke-dasharray="1.5,1"/>
<line x1="62" y1="390.4" x2="527" y2="390.4" stroke="#e4e4e4" stroke-width="0.8" stroke-dasharray="1.5,1"/>
<line x1="62" y1="419.5" x2="527" y2="419.5" stroke="#e4e4e4" stroke-width="0.8" stroke-dasharray="1.5,1"/>
<line x1="62" y1="448" x2="527" y2="448" stroke="#e4e4e4" stroke-width="0.8" stroke-dasharray="1.5,1"/>
<line x1="62" y1="475" x2="527" y2="475" stroke="#e4e4e4" stroke-width="0.8" stroke-dasharray="1.5,1"/>
<line x1="62" y1="503.3" x2="527" y2="503.3" stroke="#e4e4e4" stroke-width="0.8" stroke-dasharray="1.5,1"/>
<line x1="62" y1="520" x2="527" y2="520" stroke="#e4e4e4" stroke-width="0.8" stroke-dasharray="1.5,1"/>
<line x1="177.3" y1="320" x2="177.3" y2="526" stroke="#e4e4e4" stroke-width="0.8" stroke-dasharray="1.5,1"/>
<line x1="294.1" y1="320" x2="294.1" y2="526" stroke="#e4e4e4" stroke-width="0.8" stroke-dasharray="1.5,1"/>
<line x1="411.5" y1="320" x2="411.5" y2="526" stroke="#e4e4e4" stroke-width="0.8" stroke-dasharray="1.5,1"/>
<polyline points="62.0,402.0 177.0,360.0 294.0,341.1 411.5,333.4 528.0,330.2" fill="none" stroke="#ff9a40" stroke-width="0.9" stroke-opacity="0.9" stroke-linejoin="round" />
<polyline points="62.0,410.1 177.0,366.5 294.0,347.0 411.5,337.0 528.0,334.1" fill="none" stroke="#404040" stroke-width="0.9" stroke-opacity="0.9" stroke-linejoin="round" />
<polyline points="62.0,384.4 177.0,359.9 294.0,345.9 411.5,336.3 528.0,333.9" fill="none" stroke="#5060e0" stroke-width="0.85" stroke-opacity="0.9" stroke-linejoin="round" />
<polyline points="62.0,387.3 177.0,360.5 294.0,346.7 411.5,336.8 528.0,334.4" fill="none" stroke="#40e0e8" stroke-width="0.85" stroke-opacity="0.9" stroke-linejoin="round" />
<polyline points="62.0,373.3 177.0,357.6 294.0,342.6 411.5,334.2 528.0,331.8" fill="none" stroke="#505050" stroke-width="0.85" stroke-opacity="0.9" stroke-linejoin="round" />
<polyline points="62.0,417.8 177.0,378.9 294.0,360.0 411.5,355.2 528.0,356.2" fill="none" stroke="#2e8a2e" stroke-width="1.0" stroke-opacity="0.9" stroke-linejoin="round" />
<polyline points="62.0,376.2 177.0,358.2 294.0,343.5 411.5,334.7 528.0,332.3" fill="none" stroke="#2a8a2a" stroke-width="0.85" stroke-opacity="0.9" stroke-linejoin="round" />
<polyline points="62.0,390.5 177.0,361.1 294.0,347.5 411.5,337.3 528.0,334.9" fill="none" stroke="#30d0e0" stroke-width="0.85" stroke-opacity="0.9" stroke-linejoin="round" />
<polyline points="62.0,415.8 177.0,372.0 294.0,355.5 411.5,350.3 528.0,350.3" fill="none" stroke="#303030" stroke-width="1.0" stroke-opacity="0.9" stroke-linejoin="round" />
<polyline points="62.0,404.7 177.0,362.0 294.0,342.9 411.5,334.5 528.0,331.4" fill="none" stroke="#40a0a0" stroke-width="0.9" stroke-opacity="0.9" stroke-linejoin="round" />
<polyline points="62.0,411.9 177.0,368.0 294.0,348.4 411.5,337.9 528.0,335.0" fill="none" stroke="#ffb0c8" stroke-width="0.9" stroke-opacity="0.9" stroke-linejoin="round" />
<polyline points="62.0,413.1 177.0,369.0 294.0,349.3 411.5,338.4 528.0,335.6" fill="none" stroke="#c090e0" stroke-width="0.9" stroke-opacity="0.9" stroke-linejoin="round" />
<polyline points="62.0,407.7 177.0,364.5 294.0,345.2 411.5,335.9 528.0,332.9" fill="none" stroke="#3030c0" stroke-width="0.9" stroke-opacity="0.9" stroke-linejoin="round" />
<polyline points="62.0,368.6 177.0,356.4 294.0,341.0 411.5,333.2 528.0,330.8" fill="none" stroke="#ffc8d8" stroke-width="0.85" stroke-opacity="0.9" stroke-linejoin="round" />
<polyline points="62.0,353.5 177.0,351.8 294.0,355.4 411.5,348.4 528.0,347.6" fill="none" stroke="#e030c0" stroke-width="0.85" stroke-opacity="0.9" stroke-linejoin="round" />
<polyline points="62.0,401.2 177.0,359.5 294.0,340.7 411.5,333.1 528.0,329.9" fill="none" stroke="#e8c040" stroke-width="0.9" stroke-opacity="0.9" stroke-linejoin="round" />
<polyline points="62.0,398.4 177.0,362.8 294.0,350.0 411.5,338.8 528.0,336.4" fill="none" stroke="#c8a040" stroke-width="0.85" stroke-opacity="0.9" stroke-linejoin="round" />
<polyline points="62.0,378.9 177.0,358.7 294.0,344.3 411.5,335.2 528.0,332.8" fill="none" stroke="#4040e0" stroke-width="0.85" stroke-opacity="0.9" stroke-linejoin="round" />
<polyline points="62.0,403.5 177.0,361.0 294.0,342.0 411.5,333.9 528.0,330.8" fill="none" stroke="#a060c0" stroke-width="0.9" stroke-opacity="0.9" stroke-linejoin="round" />
<polyline points="62.0,411.3 177.0,367.5 294.0,347.9 411.5,337.6 528.0,334.7" fill="none" stroke="#e8d830" stroke-width="0.9" stroke-opacity="0.9" stroke-linejoin="round" />
<polyline points="62.0,425.7 177.0,384.5 294.0,367.8 411.5,363.4 528.0,364.0" fill="none" stroke="#3a3ae0" stroke-width="1.0" stroke-opacity="0.9" stroke-linejoin="round" />
<polyline points="62.0,405.9 177.0,363.0 294.0,343.8 411.5,335.1 528.0,332.0" fill="none" stroke="#1a1a80" stroke-width="0.9" stroke-opacity="0.9" stroke-linejoin="round" />
<polyline points="62.0,410.7 177.0,367.0 294.0,347.5 411.5,337.3 528.0,334.4" fill="none" stroke="#ffa030" stroke-width="0.9" stroke-opacity="0.9" stroke-linejoin="round" />
<polyline points="62.0,395.6 177.0,362.2 294.0,349.2 411.5,338.3 528.0,335.9" fill="none" stroke="#f0e040" stroke-width="0.85" stroke-opacity="0.9" stroke-linejoin="round" />
<polyline points="62.0,355.4 177.0,352.4 294.0,354.7 411.5,345.9 528.0,345.1" fill="none" stroke="#4040e0" stroke-width="0.85" stroke-opacity="0.9" stroke-linejoin="round" />
<polyline points="62.0,407.1 177.0,364.0 294.0,344.7 411.5,335.6 528.0,332.6" fill="none" stroke="#303030" stroke-width="0.9" stroke-opacity="0.9" stroke-linejoin="round" />
<polyline points="62.0,393.2 177.0,361.6 294.0,348.4 411.5,337.8 528.0,335.4" fill="none" stroke="#8a2aa0" stroke-width="0.85" stroke-opacity="0.9" stroke-linejoin="round" />
<polyline points="62.0,406.5 177.0,363.5 294.0,344.3 411.5,335.3 528.0,332.3" fill="none" stroke="#2a7a7a" stroke-width="0.9" stroke-opacity="0.9" stroke-linejoin="round" />
<polyline points="62.0,366.2 177.0,355.9 294.0,350.8 411.5,338.3 528.0,337.5" fill="none" stroke="#ffa0c0" stroke-width="0.85" stroke-opacity="0.9" stroke-linejoin="round" />
<polyline points="62.0,408.9 177.0,365.5 294.0,346.1 411.5,336.5 528.0,333.5" fill="none" stroke="#602080" stroke-width="0.9" stroke-opacity="0.9" stroke-linejoin="round" />
<polyline points="62.0,412.5 177.0,368.5 294.0,348.8 411.5,338.2 528.0,335.3" fill="none" stroke="#808080" stroke-width="0.9" stroke-opacity="0.9" stroke-linejoin="round" />
<polyline points="62.0,405.3 177.0,362.5 294.0,343.4 411.5,334.8 528.0,331.7" fill="none" stroke="#202020" stroke-width="0.9" stroke-opacity="0.9" stroke-linejoin="round" />
<polyline points="62.0,363.3 177.0,354.7 294.0,352.1 411.5,340.8 528.0,340.0" fill="none" stroke="#e8d830" stroke-width="0.85" stroke-opacity="0.9" stroke-linejoin="round" />
<polyline points="62.0,357.5 177.0,353.0 294.0,354.1 411.5,344.6 528.0,343.8" fill="none" stroke="#30d8e8" stroke-width="0.85" stroke-opacity="0.9" stroke-linejoin="round" />
<polyline points="62.0,381.6 177.0,359.3 294.0,345.1 411.5,335.7 528.0,333.3" fill="none" stroke="#e040c0" stroke-width="0.85" stroke-opacity="0.9" stroke-linejoin="round" />
<polyline points="62.0,408.3 177.0,365.0 294.0,345.7 411.5,336.2 528.0,333.2" fill="none" stroke="#1a5a1a" stroke-width="0.9" stroke-opacity="0.9" stroke-linejoin="round" />
<polyline points="62.0,414.6 177.0,370.0 294.0,350.2 411.5,339.0 528.0,336.2" fill="none" stroke="#a0a0a0" stroke-width="0.9" stroke-opacity="0.9" stroke-linejoin="round" />
<polyline points="62.0,402.8 177.0,360.5 294.0,341.6 411.5,333.6 528.0,330.5" fill="none" stroke="#f0a0c0" stroke-width="0.9" stroke-opacity="0.9" stroke-linejoin="round" />
<polyline points="62.0,364.6 177.0,355.3 294.0,351.4 411.5,339.7 528.0,338.9" fill="none" stroke="#8a2aa0" stroke-width="0.85" stroke-opacity="0.9" stroke-linejoin="round" />
<polyline points="62.0,409.5 177.0,366.0 294.0,346.6 411.5,336.7 528.0,333.8" fill="none" stroke="#20a0b0" stroke-width="0.9" stroke-opacity="0.9" stroke-linejoin="round" />
<polyline points="62.0,361.0 177.0,354.1 294.0,352.8 411.5,342.2 528.0,341.4" fill="none" stroke="#a0602a" stroke-width="0.85" stroke-opacity="0.9" stroke-linejoin="round" />
<polyline points="62.0,359.0 177.0,353.5 294.0,353.4 411.5,343.3 528.0,342.5" fill="none" stroke="#90eef0" stroke-width="0.85" stroke-opacity="0.9" stroke-linejoin="round" />
<polyline points="62.0,413.8 177.0,369.5 294.0,349.7 411.5,338.7 528.0,335.9" fill="none" stroke="#f0c080" stroke-width="0.9" stroke-opacity="0.9" stroke-linejoin="round" />
<polyline points="62.0,404.1 177.0,361.5 294.0,342.5 411.5,334.2 528.0,331.1" fill="none" stroke="#e8d830" stroke-width="0.9" stroke-opacity="0.9" stroke-linejoin="round" />
<polyline points="62.0,370.2 177.0,357.0 294.0,341.8 411.5,333.7 528.0,331.3" fill="none" stroke="#202020" stroke-width="0.85" stroke-opacity="0.9" stroke-linejoin="round" />
<polyline points="62.0,400.3 177.0,359.0 294.0,340.2 411.5,332.8 528.0,329.6" fill="none" stroke="#40d8e0" stroke-width="0.9" stroke-opacity="0.9" stroke-linejoin="round" />
<rect x="63.1" y="343.3" width="1.4" height="1.4" fill="none" stroke="#e030c0" stroke-width="0.8" stroke-opacity="1.0"/>
<rect x="63.1" y="345.6" width="1.4" height="1.4" fill="none" stroke="#ffb0c8" stroke-width="0.8" stroke-opacity="1.0"/>
<rect x="63.1" y="347.8" width="1.4" height="1.4" fill="none" stroke="#f0e040" stroke-width="0.8" stroke-opacity="1.0"/>
<rect x="63.1" y="350.1" width="1.4" height="1.4" fill="none" stroke="#3a3ae0" stroke-width="0.8" stroke-opacity="1.0"/>
<rect x="63.1" y="352.3" width="1.4" height="1.4" fill="none" stroke="#202020" stroke-width="0.8" stroke-opacity="1.0"/>
<rect x="63.1" y="354.6" width="1.4" height="1.4" fill="none" stroke="#7a30a0" stroke-width="0.8" stroke-opacity="1.0"/>
<rect x="63.1" y="356.8" width="1.4" height="1.4" fill="none" stroke="#30e0e0" stroke-width="0.8" stroke-opacity="1.0"/>
<rect x="63.1" y="359.1" width="1.4" height="1.4" fill="none" stroke="#2a8a2a" stroke-width="0.8" stroke-opacity="1.0"/>
<rect x="63.1" y="361.3" width="1.4" height="1.4" fill="none" stroke="#ff9a40" stroke-width="0.8" stroke-opacity="1.0"/>
<rect x="63.1" y="363.6" width="1.4" height="1.4" fill="none" stroke="#a0602a" stroke-width="0.8" stroke-opacity="1.0"/>
<rect x="63.1" y="365.8" width="1.4" height="1.4" fill="none" stroke="#5050e0" stroke-width="0.8" stroke-opacity="1.0"/>
<rect x="63.1" y="368.1" width="1.4" height="1.4" fill="none" stroke="#f8a8c0" stroke-width="0.8" stroke-opacity="1.0"/>
<rect x="63.1" y="370.3" width="1.4" height="1.4" fill="none" stroke="#e8d830" stroke-width="0.8" stroke-opacity="1.0"/>
<rect x="63.1" y="372.6" width="1.4" height="1.4" fill="none" stroke="#e050c0" stroke-width="0.8" stroke-opacity="1.0"/>
<rect x="63.1" y="374.8" width="1.4" height="1.4" fill="none" stroke="#404040" stroke-width="0.8" stroke-opacity="1.0"/>
<rect x="63.1" y="377.1" width="1.4" height="1.4" fill="none" stroke="#8a2aa0" stroke-width="0.8" stroke-opacity="1.0"/>
<rect x="63.1" y="379.3" width="1.4" height="1.4" fill="none" stroke="#40d8e8" stroke-width="0.8" stroke-opacity="1.0"/>
<rect x="63.1" y="381.6" width="1.4" height="1.4" fill="none" stroke="#30a030" stroke-width="0.8" stroke-opacity="1.0"/>
<rect x="63.1" y="383.8" width="1.4" height="1.4" fill="none" stroke="#ffa030" stroke-width="0.8" stroke-opacity="1.0"/>
<rect x="63.1" y="386.1" width="1.4" height="1.4" fill="none" stroke="#c08040" stroke-width="0.8" stroke-opacity="1.0"/>
<rect x="63.1" y="388.3" width="1.4" height="1.4" fill="none" stroke="#e030c0" stroke-width="0.8" stroke-opacity="1.0"/>
<rect x="63.1" y="390.6" width="1.4" height="1.4" fill="none" stroke="#ffb0c8" stroke-width="0.8" stroke-opacity="1.0"/>
<rect x="63.1" y="392.8" width="1.4" height="1.4" fill="none" stroke="#f0e040" stroke-width="0.8" stroke-opacity="1.0"/>
<rect x="63.1" y="395.1" width="1.4" height="1.4" fill="none" stroke="#3a3ae0" stroke-width="0.8" stroke-opacity="1.0"/>
<rect x="63.1" y="397.3" width="1.4" height="1.4" fill="none" stroke="#202020" stroke-width="0.8" stroke-opacity="1.0"/>
<rect x="63.1" y="399.6" width="1.4" height="1.4" fill="none" stroke="#7a30a0" stroke-width="0.8" stroke-opacity="1.0"/>
<rect x="63.1" y="401.8" width="1.4" height="1.4" fill="none" stroke="#30e0e0" stroke-width="0.8" stroke-opacity="1.0"/>
<rect x="63.1" y="404.1" width="1.4" height="1.4" fill="none" stroke="#2a8a2a" stroke-width="0.8" stroke-opacity="1.0"/>
<rect x="63.1" y="406.3" width="1.4" height="1.4" fill="none" stroke="#ff9a40" stroke-width="0.8" stroke-opacity="1.0"/>
<rect x="63.1" y="408.6" width="1.4" height="1.4" fill="none" stroke="#a0602a" stroke-width="0.8" stroke-opacity="1.0"/>
<rect x="63.1" y="410.8" width="1.4" height="1.4" fill="none" stroke="#5050e0" stroke-width="0.8" stroke-opacity="1.0"/>
<rect x="63.1" y="413.1" width="1.4" height="1.4" fill="none" stroke="#f8a8c0" stroke-width="0.8" stroke-opacity="1.0"/>
<rect x="63.1" y="415.3" width="1.4" height="1.4" fill="none" stroke="#e8d830" stroke-width="0.8" stroke-opacity="1.0"/>
<rect x="63.1" y="417.6" width="1.4" height="1.4" fill="none" stroke="#e050c0" stroke-width="0.8" stroke-opacity="1.0"/>
<rect x="63.1" y="419.8" width="1.4" height="1.4" fill="none" stroke="#404040" stroke-width="0.8" stroke-opacity="1.0"/>
<rect x="63.1" y="422.1" width="1.4" height="1.4" fill="none" stroke="#8a2aa0" stroke-width="0.8" stroke-opacity="1.0"/>
<rect x="63.1" y="424.3" width="1.4" height="1.4" fill="none" stroke="#40d8e8" stroke-width="0.8" stroke-opacity="1.0"/>
<rect x="176.3" y="348.4" width="1.3" height="1.3" fill="none" stroke="#3030c0" stroke-width="0.85" stroke-opacity="1.0"/>
<rect x="176.3" y="350.6" width="1.3" height="1.3" fill="none" stroke="#202020" stroke-width="0.85" stroke-opacity="1.0"/>
<rect x="176.3" y="352.8" width="1.3" height="1.3" fill="none" stroke="#30c0d0" stroke-width="0.85" stroke-opacity="1.0"/>
<rect x="176.3" y="355.0" width="1.3" height="1.3" fill="none" stroke="#ff9a40" stroke-width="0.85" stroke-opacity="1.0"/>
<rect x="176.3" y="357.2" width="1.3" height="1.3" fill="none" stroke="#8a2aa0" stroke-width="0.85" stroke-opacity="1.0"/>
<rect x="176.3" y="359.5" width="1.3" height="1.3" fill="none" stroke="#e8c030" stroke-width="0.85" stroke-opacity="1.0"/>
<rect x="176.3" y="361.7" width="1.3" height="1.3" fill="none" stroke="#f080a0" stroke-width="0.85" stroke-opacity="1.0"/>
<rect x="176.3" y="363.9" width="1.3" height="1.3" fill="none" stroke="#707070" stroke-width="0.85" stroke-opacity="1.0"/>
<rect x="176.3" y="366.1" width="1.3" height="1.3" fill="none" stroke="#2a8a2a" stroke-width="0.85" stroke-opacity="1.0"/>
<rect x="176.3" y="368.4" width="1.3" height="1.3" fill="none" stroke="#3030c0" stroke-width="0.85" stroke-opacity="1.0"/>
<rect x="293.4" y="338.8" width="1.3" height="1.3" fill="none" stroke="#3030c0" stroke-width="0.85" stroke-opacity="1.0"/>
<rect x="293.4" y="341.0" width="1.3" height="1.3" fill="none" stroke="#202020" stroke-width="0.85" stroke-opacity="1.0"/>
<rect x="293.4" y="343.3" width="1.3" height="1.3" fill="none" stroke="#30c0d0" stroke-width="0.85" stroke-opacity="1.0"/>
<rect x="293.4" y="345.6" width="1.3" height="1.3" fill="none" stroke="#ff9a40" stroke-width="0.85" stroke-opacity="1.0"/>
<rect x="293.4" y="347.9" width="1.3" height="1.3" fill="none" stroke="#8a2aa0" stroke-width="0.85" stroke-opacity="1.0"/>
<rect x="293.4" y="350.2" width="1.3" height="1.3" fill="none" stroke="#e8c030" stroke-width="0.85" stroke-opacity="1.0"/>
<rect x="293.4" y="352.5" width="1.3" height="1.3" fill="none" stroke="#f080a0" stroke-width="0.85" stroke-opacity="1.0"/>
<rect x="293.4" y="354.8" width="1.3" height="1.3" fill="none" stroke="#707070" stroke-width="0.85" stroke-opacity="1.0"/>
<rect x="293.4" y="357.1" width="1.3" height="1.3" fill="none" stroke="#2a8a2a" stroke-width="0.85" stroke-opacity="1.0"/>
<rect x="293.4" y="359.4" width="1.3" height="1.3" fill="none" stroke="#3030c0" stroke-width="0.85" stroke-opacity="1.0"/>
<rect x="410.9" y="331.7" width="1.3" height="1.3" fill="none" stroke="#3030c0" stroke-width="0.85" stroke-opacity="1.0"/>
<rect x="410.9" y="333.9" width="1.3" height="1.3" fill="none" stroke="#202020" stroke-width="0.85" stroke-opacity="1.0"/>
<rect x="410.9" y="336.2" width="1.3" height="1.3" fill="none" stroke="#30c0d0" stroke-width="0.85" stroke-opacity="1.0"/>
<rect x="410.9" y="338.4" width="1.3" height="1.3" fill="none" stroke="#ff9a40" stroke-width="0.85" stroke-opacity="1.0"/>
<rect x="410.9" y="340.7" width="1.3" height="1.3" fill="none" stroke="#8a2aa0" stroke-width="0.85" stroke-opacity="1.0"/>
<rect x="410.9" y="343.0" width="1.3" height="1.3" fill="none" stroke="#e8c030" stroke-width="0.85" stroke-opacity="1.0"/>
<rect x="410.9" y="345.2" width="1.3" height="1.3" fill="none" stroke="#f080a0" stroke-width="0.85" stroke-opacity="1.0"/>
<rect x="410.9" y="347.5" width="1.3" height="1.3" fill="none" stroke="#707070" stroke-width="0.85" stroke-opacity="1.0"/>
<rect x="410.9" y="349.7" width="1.3" height="1.3" fill="none" stroke="#2a8a2a" stroke-width="0.85" stroke-opacity="1.0"/>
<rect x="410.9" y="352.0" width="1.3" height="1.3" fill="none" stroke="#3030c0" stroke-width="0.85" stroke-opacity="1.0"/>
<rect x="410.9" y="354.3" width="1.3" height="1.3" fill="none" stroke="#202020" stroke-width="0.85" stroke-opacity="1.0"/>
<rect x="410.9" y="356.5" width="1.3" height="1.3" fill="none" stroke="#30c0d0" stroke-width="0.85" stroke-opacity="1.0"/>
<rect x="410.9" y="358.8" width="1.3" height="1.3" fill="none" stroke="#ff9a40" stroke-width="0.85" stroke-opacity="1.0"/>
<rect x="410.9" y="361.1" width="1.3" height="1.3" fill="none" stroke="#8a2aa0" stroke-width="0.85" stroke-opacity="1.0"/>
<circle cx="178" cy="366.5" r="2" fill="none" stroke="#e02020" stroke-width="1"/>
<rect x="176.3" y="378.3" width="1.4" height="1.4" fill="none" stroke="#4a4ae0" stroke-width="0.8" stroke-opacity="1.0"/>
<rect x="293.3" y="372.3" width="1.4" height="1.4" fill="none" stroke="#4a4ae0" stroke-width="0.8" stroke-opacity="1.0"/>
<rect x="410.8" y="371.3" width="1.4" height="1.4" fill="none" stroke="#4a4ae0" stroke-width="0.8" stroke-opacity="1.0"/>
<rect x="61.3" y="319.6" width="466.2" height="207.6" fill="none" stroke="#000" stroke-width="2"/>
<line x1="175.7" y1="519" x2="175.7" y2="526" stroke="#000" stroke-width="1.6"/>
<line x1="294.1" y1="519" x2="294.1" y2="526" stroke="#000" stroke-width="1.6"/>
<line x1="412" y1="519" x2="412" y2="526" stroke="#000" stroke-width="1.6"/>
<text x="32.5" y="339.7" font-size="10.5" fill="#000" font-weight="bold" text-anchor="start" stroke="#000" stroke-width="0.35" textLength="19.800000000000004" lengthAdjust="spacingAndGlyphs" >1×10</text>
<text x="53.4" y="334.4" font-size="5.6" font-weight="bold" fill="#000" stroke="#000" stroke-width="0.2">2</text>
<text x="32.1" y="362.6" font-size="10.5" fill="#000" font-weight="bold" text-anchor="start" stroke="#000" stroke-width="0.35" textLength="20.200000000000003" lengthAdjust="spacingAndGlyphs" >1×10</text>
<text x="53.6" y="357" font-size="5.6" font-weight="bold" fill="#000" stroke="#000" stroke-width="0.2">1</text>
<text x="32.6" y="425.6" font-size="10.5" fill="#000" font-weight="bold" text-anchor="start" stroke="#000" stroke-width="0.35" textLength="18.900000000000006" lengthAdjust="spacingAndGlyphs" >1×10</text>
<text x="53.0" y="418.2" font-size="5.6" font-weight="bold" fill="#000" stroke="#000" stroke-width="0.2">-1</text>
<text x="32.1" y="458.1" font-size="10.5" fill="#000" font-weight="bold" text-anchor="start" stroke="#000" stroke-width="0.35" textLength="19.300000000000004" lengthAdjust="spacingAndGlyphs" >1×10</text>
<text x="53.0" y="450.8" font-size="5.6" font-weight="bold" fill="#000" stroke="#000" stroke-width="0.2">-2</text>
<text x="32.1" y="486.2" font-size="10.5" fill="#000" font-weight="bold" text-anchor="start" stroke="#000" stroke-width="0.35" textLength="19.300000000000004" lengthAdjust="spacingAndGlyphs" >1×10</text>
<text x="54.6" y="478.9" font-size="5.6" font-weight="bold" fill="#000" stroke="#000" stroke-width="0.2">-3</text>
<text x="32.1" y="514.9" font-size="10.5" fill="#000" font-weight="bold" text-anchor="start" stroke="#000" stroke-width="0.35" textLength="19.300000000000004" lengthAdjust="spacingAndGlyphs" >1×10</text>
<text x="54.6" y="507.7" font-size="5.6" font-weight="bold" fill="#000" stroke="#000" stroke-width="0.2">-4</text>
<text x="43.6" y="394.6" font-size="10.5" fill="#000" font-weight="bold" text-anchor="start" stroke="#000" stroke-width="0.35" textLength="3.8" lengthAdjust="spacingAndGlyphs" >1</text>
<text x="62.1" y="537.8" font-size="9.5" fill="#000" font-weight="bold" text-anchor="middle" stroke="#000" stroke-width="0.35" textLength="15.2" lengthAdjust="spacingAndGlyphs" >1.00</text>
<text x="177.9" y="537.8" font-size="9.5" fill="#000" font-weight="bold" text-anchor="middle" stroke="#000" stroke-width="0.35" textLength="15.2" lengthAdjust="spacingAndGlyphs" >1.50</text>
<text x="294.8" y="537.8" font-size="9.5" fill="#000" font-weight="bold" text-anchor="middle" stroke="#000" stroke-width="0.35" textLength="15.2" lengthAdjust="spacingAndGlyphs" >2.00</text>
<text x="412.5" y="537.8" font-size="9.5" fill="#000" font-weight="bold" text-anchor="middle" stroke="#000" stroke-width="0.35" textLength="15.2" lengthAdjust="spacingAndGlyphs" >2.50</text>
<text x="530.1" y="537.8" font-size="9.5" fill="#000" font-weight="bold" text-anchor="middle" stroke="#000" stroke-width="0.35" textLength="15.2" lengthAdjust="spacingAndGlyphs" >3.00</text>
<text transform="translate(15.2,451.5) rotate(-90)" font-weight="bold" fill="#000" stroke="#000" stroke-width="0.3" textLength="47" lengthAdjust="spacingAndGlyphs"><tspan font-size="12.5">I</tspan><tspan font-size="9">ds</tspan><tspan font-size="12.5"> (uA)</tspan></text>
<line x1="92.4" y1="442.3" x2="119" y2="442.3" stroke="#3a3a3a" stroke-width="1.3"/>
<text x="124" y="447.1" font-size="14.6" fill="#000" font-weight="bold" text-anchor="start" stroke="#000" stroke-width="0.35" textLength="94.9" lengthAdjust="spacingAndGlyphs" >Simulation result</text>
<rect x="103.7" y="463.7" width="4.6" height="4.6" fill="none" stroke="#111" stroke-width="1.0" stroke-opacity="1.0"/>
<text x="123" y="471.3" font-size="14.6" fill="#000" font-weight="bold" text-anchor="start" stroke="#000" stroke-width="0.35" textLength="110.8" lengthAdjust="spacingAndGlyphs" >Measurement result</text>
<text x="322.3" y="388.6" font-size="10" fill="#8a1a8a" font-weight="bold" text-anchor="start" stroke="#8a1a8a" stroke-width="0.35" textLength="37.5" lengthAdjust="spacingAndGlyphs" >Vds=1.6V</text>
<text x="322.3" y="402.3" font-size="10" fill="#e0dc20" font-weight="bold" text-anchor="start" stroke="#e0dc20" stroke-width="0.35" textLength="37.5" lengthAdjust="spacingAndGlyphs" >Vds=1.5V</text>
<text x="322.3" y="415.8" font-size="10" fill="#d03c9c" font-weight="bold" text-anchor="start" stroke="#d03c9c" stroke-width="0.35" textLength="37.5" lengthAdjust="spacingAndGlyphs" >Vds=1.4V</text>
<text x="322.3" y="430.8" font-size="10" fill="#000" font-weight="bold" text-anchor="start" stroke="#000" stroke-width="0.35" textLength="37.5" lengthAdjust="spacingAndGlyphs" >Vds=1.3V</text>
<text x="322.3" y="446.2" font-size="10" fill="#1e8a1e" font-weight="bold" text-anchor="start" stroke="#1e8a1e" stroke-width="0.35" textLength="37.5" lengthAdjust="spacingAndGlyphs" >Vds=1.2V</text>
<text x="322.3" y="463.9" font-size="10" fill="#1a1ae8" font-weight="bold" text-anchor="start" stroke="#1a1ae8" stroke-width="0.35" textLength="37.5" lengthAdjust="spacingAndGlyphs" >Vds=1.1V</text>
<text x="322.3" y="477.3" font-size="10" fill="#d03c9c" font-weight="bold" text-anchor="start" stroke="#d03c9c" stroke-width="0.35" textLength="37.5" lengthAdjust="spacingAndGlyphs" >Vds=1.0V</text>
<text x="322.3" y="512.4" font-size="10" fill="#1a1ae8" font-weight="bold" text-anchor="start" stroke="#1a1ae8" stroke-width="0.35" textLength="37.5" lengthAdjust="spacingAndGlyphs" >Vds=0.1V</text>
<line x1="340.8" y1="481.3" x2="340.8" y2="500.4" stroke="#222" stroke-width="0.9" stroke-dasharray="1.2,0.8"/>
<text x="274.7" y="588.4" font-size="20.5" fill="#000" font-family="'Liberation Serif',serif" textLength="22.5" lengthAdjust="spacingAndGlyphs">(<tspan font-weight="bold">b</tspan>)</text>
</svg>
</body></html>
